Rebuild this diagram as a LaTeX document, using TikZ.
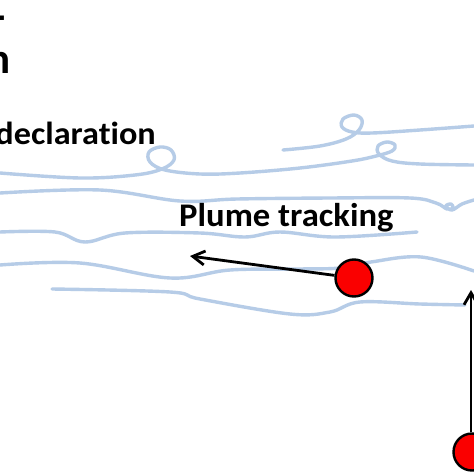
\documentclass[tikz,border=0pt]{standalone}
\usepackage{fontspec}
\setmainfont{Carlito}[Ligatures=NoCommon]
\usetikzlibrary{arrows.meta}
\definecolor{flowblue}{RGB}{182,204,231}
\definecolor{ballred}{RGB}{250,0,0}
\begin{document}
\begin{tikzpicture}[x=1pt,y=-1pt,
  flow/.style={draw=flowblue,line width=3.4pt,line cap=round,line join=round},
  ball/.style={circle,draw=black,fill=ballred,line width=2.4pt,minimum size=37pt,inner sep=0pt},
  track/.style={draw=black,line width=2.8pt,-{Straight Barb[length=12pt,width=14pt]}},
  lbl/.style={font=\bfseries,inner sep=0pt}]
\useasboundingbox (0,0) rectangle (474,474);
\clip (0,0) rectangle (474,474);
\fill[white] (0,0) rectangle (474,474);
% streamlines
\draw[flow] plot[smooth,tension=0.6] coordinates {(283,150) (320,146) (346,139) (359,130) (362,120) (354,115) (343,119) (342,127) (352,132) (372,133) (420,130) (474,126)};
\draw[flow] plot[smooth,tension=0.6] coordinates {(0,173) (80,178) (135,175) (162,169) (174,160) (171,150) (160,147) (149,152) (150,162) (165,170) (200,174) (240,173) (300,168) (352,161) (376,156) (392,151) (395,145) (387,142) (378,146) (379,154) (392,161) (420,164) (474,165)};
\draw[flow] plot[smooth,tension=0.6] coordinates {(0,193) (100,190) (180,201) (237,199) (330,198) (410,198) (436,203) (447,209) (453,208) (451,204) (446,206) (452,210) (462,204) (474,200)};
\draw[flow] plot[smooth,tension=0.6] coordinates {(0,232) (55,232) (85,242) (125,233) (200,233) (245,237) (280,232) (335,237) (417,232)};
\draw[flow] plot[smooth,tension=0.6] coordinates {(0,265) (80,263) (170,278) (230,270) (300,269) (340,268) (371,262) (421,257) (474,271)};
\draw[flow] plot[smooth,tension=0.6] coordinates {(52,289) (170,292) (200,299) (290,314) (330,312) (360,302) (420,304) (465,305)};
% labels
\node[lbl,font=\bfseries\fontsize{43}{43}\selectfont,anchor=base east] (tdash) at (6,30) {-};
\node[lbl,font=\bfseries\fontsize{43}{43}\selectfont,anchor=base east] (tn) at (11,73) {n};
\node[lbl,font=\bfseries\fontsize{32}{32}\selectfont,anchor=base east] (tdecl) at (156,144) {\scalebox{1.07}[1]{declaration}};
\node[lbl,font=\bfseries\fontsize{33}{33}\selectfont,anchor=base west] (tplume) at (179,226) {\scalebox{1.05}[1]{Plume tracking}};
% particles
\node[ball] (b1) at (354,278) {};
\node[ball] (b2) at (472,452) {};
\coordinate (a1) at (190,256);
\coordinate (a2) at (471,290);
\draw[track] (b1) -- (a1);
\draw[track] (b2.north -| a2) -- (a2);
\end{tikzpicture}
\end{document}
